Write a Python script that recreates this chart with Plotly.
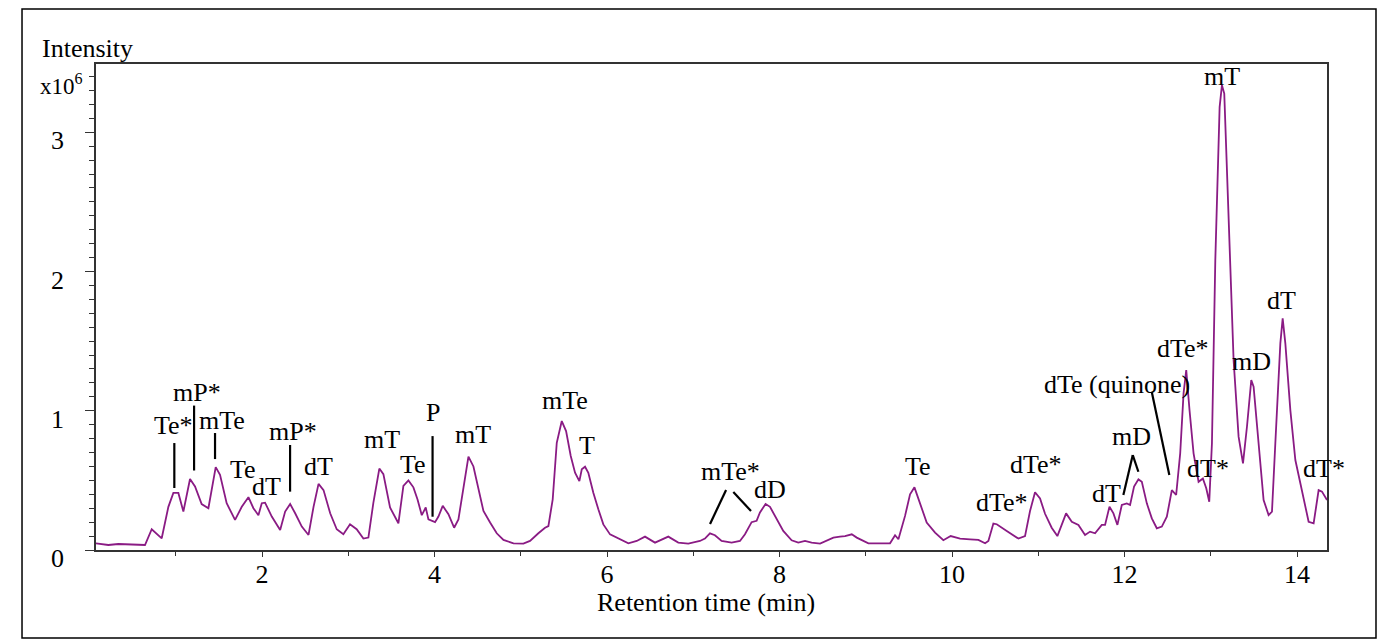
import plotly.graph_objects as go

# ---- Data (retention time in min, intensity in 1e6 counts) ----
time_min = [
    0.064, 0.218, 0.334, 0.45, 0.643, 0.721, 0.837, 0.914, 0.972, 1.03,
    1.088, 1.165, 1.223, 1.3, 1.378, 1.463, 1.513, 1.59, 1.687, 1.765,
    1.842, 1.90, 1.958, 1.997, 2.035, 2.113, 2.21, 2.268, 2.326, 2.384,
    2.461, 2.539, 2.597, 2.655, 2.713, 2.79,
    2.866, 2.943, 3.02, 3.097, 3.175, 3.233, 3.291, 3.36, 3.407, 3.484,
    3.581, 3.639, 3.697, 3.755, 3.802, 3.852, 3.898, 3.929, 4.006, 4.045,
    4.095, 4.161, 4.227, 4.277, 4.335, 4.393, 4.451, 4.509, 4.567, 4.644,
    4.721, 4.799, 4.915, 5.03, 5.107, 5.204, 5.281,
    5.32, 5.37, 5.417, 5.475, 5.525, 5.579, 5.629, 5.679, 5.707, 5.745,
    5.783, 5.841, 5.899, 5.957, 6.035, 6.112,
    6.247, 6.344, 6.44, 6.556, 6.71, 6.826, 6.942, 7.077, 7.135, 7.193,
    7.251, 7.328, 7.444, 7.541, 7.599, 7.676, 7.734, 7.773, 7.838, 7.889,
    7.966, 8.043, 8.14, 8.217, 8.295, 8.372,
    8.47, 8.547, 8.624, 8.701, 8.759, 8.837, 8.895, 9.03, 9.165, 9.281,
    9.339, 9.378, 9.455, 9.513, 9.564, 9.629, 9.706, 9.803, 9.899, 9.984,
    10.093, 10.209, 10.305, 10.383, 10.421, 10.479, 10.518, 10.634, 10.769, 10.846,
    10.904, 10.962, 11.02, 11.078, 11.155, 11.221,
    11.322, 11.388, 11.465, 11.542, 11.6, 11.658, 11.736, 11.774, 11.825, 11.871,
    11.917, 11.968, 12.026, 12.064, 12.11, 12.161, 12.2, 12.258, 12.316, 12.374,
    12.432, 12.49, 12.548, 12.598, 12.645, 12.684, 12.715, 12.753, 12.8, 12.858,
    12.908, 12.947, 12.982, 13.013, 13.052, 13.102, 13.129, 13.156, 13.206, 13.264,
    13.322, 13.373, 13.419, 13.469, 13.496, 13.554, 13.612, 13.67, 13.709, 13.748,
    13.806, 13.833, 13.864, 13.922, 13.98, 14.038, 14.096, 14.134, 14.192, 14.25,
    14.289, 14.347,
]
intensity_e6 = [
    0.048, 0.036, 0.043, 0.041, 0.036, 0.149, 0.084, 0.31, 0.41, 0.41,
    0.276, 0.51, 0.456, 0.33, 0.30, 0.595, 0.54, 0.336, 0.216, 0.31,
    0.379, 0.30, 0.25, 0.336, 0.34, 0.24, 0.144, 0.276, 0.33, 0.264,
    0.168, 0.108, 0.31, 0.475, 0.43, 0.264,
    0.149, 0.113, 0.185, 0.149, 0.082, 0.089, 0.34, 0.585, 0.545, 0.305,
    0.192, 0.46, 0.50, 0.45, 0.365, 0.25, 0.305, 0.22, 0.20, 0.24,
    0.317, 0.257, 0.16, 0.22, 0.46, 0.67, 0.60, 0.436, 0.28, 0.197,
    0.12, 0.072, 0.048, 0.046, 0.065, 0.12, 0.16,
    0.172, 0.364, 0.77, 0.926, 0.854, 0.675, 0.555, 0.495, 0.579, 0.598,
    0.555, 0.411, 0.292, 0.184, 0.112, 0.089,
    0.048, 0.065, 0.096, 0.053, 0.096, 0.053, 0.046, 0.065, 0.082, 0.12,
    0.106, 0.065, 0.053, 0.065, 0.113, 0.20, 0.21, 0.27, 0.33, 0.31,
    0.22, 0.137, 0.07, 0.053, 0.065, 0.053,
    0.046, 0.065, 0.089, 0.096, 0.10, 0.113, 0.089, 0.048, 0.048, 0.048,
    0.106, 0.077, 0.245, 0.40, 0.45, 0.34, 0.197, 0.125, 0.07, 0.10,
    0.082, 0.077, 0.072, 0.048, 0.065, 0.19, 0.185, 0.137, 0.082, 0.10,
    0.28, 0.415, 0.37, 0.26, 0.16, 0.10,
    0.263, 0.203, 0.18, 0.108, 0.132, 0.12, 0.18, 0.18, 0.311, 0.263,
    0.18, 0.323, 0.335, 0.323, 0.455, 0.507, 0.49, 0.335, 0.227, 0.156,
    0.168, 0.239, 0.43, 0.395, 0.694, 1.125, 1.292, 1.005, 0.694, 0.49,
    0.514, 0.443, 0.347, 0.766, 2.08, 3.18, 3.338, 3.278, 2.32, 1.364,
    0.814, 0.622, 0.885, 1.22, 1.173, 0.766, 0.359, 0.251, 0.275, 0.766,
    1.484, 1.663, 1.484, 1.005, 0.646, 0.479, 0.311, 0.203, 0.191, 0.43,
    0.419, 0.359,
]

# ---- Peak labels (text, time, intensity) ----
label_text = ["Te*", "mP*", "mTe", "Te", "dT", "mP*", "dT", "mT", "Te", "P",
              "mT", "mTe", "T", "mTe*", "dD", "Te", "dTe*", "dTe*", "dT", "mD",
              "dTe (quinone)", "dTe*", "dT*", "mT", "mD", "dT", "dT*"]
label_x = [0.968, 1.246, 1.533, 1.78, 2.046, 2.354, 2.655, 3.388, 3.751, 3.986,
           4.45, 5.513, 5.765, 7.426, 7.89, 9.60, 10.576, 10.974, 11.794, 12.083,
           11.913, 12.682, 12.972, 13.127, 13.475, 13.823, 14.31]
label_y = [0.897, 1.134, 0.93, 0.581, 0.459, 0.854, 0.598, 0.79, 0.617, 0.987,
           0.826, 1.077, 0.754, 0.562, 0.431, 0.601, 0.34, 0.617, 0.407, 0.813,
           1.192, 1.448, 0.587, 3.403, 1.352, 1.795, 0.587]

# ---- Leader lines (x0, y0, x1, y1) in data units ----
lead_x0 = [0.983, 1.212, 1.455, 2.325, 3.977, 7.38, 7.464, 11.986, 12.095, 12.315]
lead_y0 = [0.445, 0.571, 0.653, 0.419, 0.239, 0.431, 0.416, 0.395, 0.682, 1.136]
lead_x1 = [0.983, 1.212, 1.455, 2.325, 3.977, 7.194, 7.669, 12.095, 12.16, 12.519]
lead_y1 = [0.768, 1.037, 0.840, 0.754, 0.818, 0.187, 0.280, 0.682, 0.562, 0.538]

x_ticks = [2, 4, 6, 8, 10, 12, 14]
y_ticks = [0, 1, 2, 3]

SERIF = "Liberation Serif, Times New Roman, serif"
AXIS_COLOR = "#333333"
FS = 26

fig = go.Figure()
fig.add_trace(go.Scatter(
    x=time_min, y=intensity_e6, mode="lines",
    line=dict(color="#8a1b84", width=1.8),
    hoverinfo="skip", showlegend=False,
))

annotations = []
for t, x, y in zip(label_text, label_x, label_y):
    annotations.append(dict(
        x=x, y=y, xref="x", yref="y", text=t, showarrow=False,
        xanchor="center", yanchor="middle",
        font=dict(family=SERIF, size=FS, color="black"),
    ))

# axis-related texts
annotations += [
    dict(x=-0.0073, y=1.031, xref="paper", yref="paper", text="Intensity",
         showarrow=False, xanchor="center", yanchor="middle",
         font=dict(family=SERIF, size=FS, color="black")),
    dict(x=-0.0284, y=0.957, xref="paper", yref="paper", text="x10<sup>6</sup>",
         showarrow=False, xanchor="center", yanchor="middle",
         font=dict(family=SERIF, size=23, color="black")),
    dict(x=0.4955, y=-0.109, xref="paper", yref="paper",
         text="Retention time (min)", showarrow=False,
         xanchor="center", yanchor="middle",
         font=dict(family=SERIF, size=FS, color="black")),
]

shapes = []
for x0, y0, x1, y1 in zip(lead_x0, lead_y0, lead_x1, lead_y1):
    shapes.append(dict(type="line", xref="x", yref="y", x0=x0, y0=y0, x1=x1, y1=y1,
                       line=dict(color="black", width=2.2)))
# outer frame
shapes.append(dict(type="rect", xref="paper", yref="paper",
                   x0=-0.0601, x1=1.0398, y0=-0.181, y1=1.113,
                   line=dict(color="black", width=1.5), fillcolor="rgba(0,0,0,0)"))

fig.update_layout(
    width=1396, height=640,
    margin=dict(l=96, r=69, t=64, b=90),
    paper_bgcolor="white", plot_bgcolor="white",
    annotations=annotations, shapes=shapes,
    showlegend=False,
)
fig.update_xaxes(
    range=[0.075, 14.347], showgrid=False, zeroline=False,
    showline=True, linecolor=AXIS_COLOR, linewidth=1.8, mirror=True,
    ticks="outside", tickvals=x_ticks, ticklen=5, tickwidth=1.4, tickcolor=AXIS_COLOR,
    minor=dict(dtick=1, tick0=0, ticks="outside", ticklen=4, tickcolor=AXIS_COLOR, showgrid=False),
    tickfont=dict(family=SERIF, size=FS, color="black"),
    ticklabelstandoff=-5,
)
fig.update_yaxes(
    range=[0, 3.49], showgrid=False, zeroline=False,
    showline=True, linecolor=AXIS_COLOR, linewidth=1.8, mirror=True,
    ticks="outside", tickvals=y_ticks, ticklen=9, tickwidth=1.4, tickcolor=AXIS_COLOR,
    minor=dict(dtick=0.1, tick0=0, ticks="outside", ticklen=5, tickcolor=AXIS_COLOR, showgrid=False),
    tickfont=dict(family=SERIF, size=FS, color="black"),
    ticklabelshift=8, ticklabelstandoff=16,
)

fig.write_html("out.html")
